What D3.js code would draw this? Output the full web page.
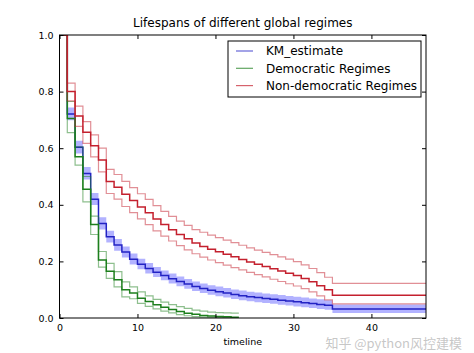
<!DOCTYPE html>
<html>
<head>
<meta charset="utf-8">
<script src="https://cdn.jsdelivr.net/npm/d3@7"></script>
<style>
  html, body { margin: 0; padding: 0; background: #fff; }
  svg { display: block; font-family: "DejaVu Sans", sans-serif; }
</style>
</head>
<body>
<div id="chart"></div>
<script>
// yearly steps, last value held to the end of the observation window
const timeline = [0,1,2,3,4,5,6,7,8,9,10,11,12,13,14,15,16,17,18,19,20,21,22,23,24,25,26,27,28,29,30,31,32,33,34,35];
const timelineEnd = 47;

const kmEstimate = [1.0,0.721,0.603,0.511,0.420,0.334,0.287,0.258,0.233,0.208,0.190,0.175,0.162,0.150,0.139,0.129,0.120,0.111,0.104,0.098,0.093,0.088,0.083,0.079,0.075,0.072,0.069,0.066,0.063,0.060,0.057,0.054,0.051,0.048,0.045,0.032];
const kmUpper    = [1.0,0.744,0.626,0.534,0.442,0.356,0.308,0.279,0.253,0.228,0.209,0.194,0.180,0.168,0.157,0.147,0.138,0.129,0.122,0.116,0.111,0.106,0.101,0.097,0.093,0.090,0.087,0.084,0.081,0.078,0.075,0.072,0.069,0.066,0.063,0.048];
const kmLower    = [1.0,0.699,0.581,0.489,0.399,0.313,0.267,0.238,0.214,0.189,0.172,0.157,0.145,0.133,0.122,0.112,0.103,0.095,0.088,0.082,0.077,0.072,0.067,0.063,0.059,0.056,0.053,0.050,0.047,0.044,0.041,0.038,0.035,0.032,0.029,0.018];

const nonDemEstimate = [1.0,0.800,0.714,0.656,0.609,0.558,0.482,0.462,0.437,0.415,0.392,0.372,0.350,0.330,0.312,0.295,0.280,0.265,0.253,0.243,0.234,0.225,0.216,0.207,0.198,0.190,0.182,0.174,0.166,0.158,0.150,0.140,0.128,0.114,0.100,0.080];
const nonDemUpper    = [1.0,0.830,0.749,0.694,0.647,0.600,0.525,0.507,0.483,0.461,0.439,0.419,0.397,0.377,0.359,0.342,0.327,0.312,0.303,0.293,0.284,0.275,0.266,0.257,0.248,0.240,0.232,0.224,0.216,0.208,0.199,0.188,0.175,0.160,0.144,0.122];
const nonDemLower    = [1.0,0.767,0.677,0.617,0.569,0.516,0.440,0.420,0.394,0.372,0.350,0.330,0.308,0.289,0.272,0.256,0.241,0.227,0.215,0.205,0.196,0.187,0.178,0.170,0.161,0.153,0.145,0.137,0.129,0.121,0.113,0.104,0.092,0.078,0.064,0.050];

const demTimeline = [0,1,2,3,4,5,6,7,8,9,10,11,12,13,14,15,16,17,18,19,20,21,22];
const demTimelineEnd = 23;
const demEstimate = [1.0,0.705,0.570,0.455,0.330,0.205,0.165,0.135,0.100,0.088,0.070,0.058,0.047,0.038,0.030,0.023,0.017,0.013,0.009,0.007,0.005,0.004,0.003];
const demUpper    = [1.0,0.765,0.605,0.500,0.360,0.235,0.193,0.164,0.128,0.110,0.092,0.078,0.066,0.056,0.047,0.040,0.034,0.028,0.024,0.021,0.019,0.018,0.017];
const demLower    = [1.0,0.655,0.540,0.410,0.295,0.180,0.140,0.110,0.075,0.068,0.052,0.041,0.032,0.024,0.018,0.012,0.008,0.005,0.003,0.002,0.001,0.001,0.001];

const xTicks = [0, 10, 20, 30, 40];
const yTicks = [0.0, 0.2, 0.4, 0.6, 0.8, 1.0];
const legendLabels = ['KM_estimate', 'Democratic Regimes', 'Non-democratic Regimes'];

const W = 474, H = 353;
const margin = { top: 35, right: 48, bottom: 35, left: 59.5 };
const width = W - margin.left - margin.right;
const height = H - margin.top - margin.bottom;

const BLUE = '#2323c4', GREEN = '#1d7f1d', RED = '#c4202e';

const svg = d3.select('#chart').append('svg')
  .attr('width', W).attr('height', H);

const g = svg.append('g')
  .attr('transform', `translate(${margin.left},${margin.top})`);

const x = d3.scaleLinear().domain([0, timelineEnd]).range([0, width]);
const y = d3.scaleLinear().domain([0, 1]).range([height, 0]);

// pair a step series with its times, holding the last value to the end
const steps = (ts, vals, end) => ts.map((t, i) => [t, vals[i]]).concat([[end, vals[vals.length - 1]]]);

const line = d3.line().x(d => x(d[0])).y(d => y(d[1])).curve(d3.curveStepAfter);

const plot = g.append('g');
plot.append('defs').append('clipPath').attr('id', 'clip')
  .append('rect').attr('width', width).attr('height', height);
const marks = plot.append('g').attr('clip-path', 'url(#clip)');

// KM estimate with shaded band
const band = timeline.map((t, i) => ({ t, lo: kmLower[i], hi: kmUpper[i] }))
  .concat([{ t: timelineEnd, lo: kmLower[kmLower.length - 1], hi: kmUpper[kmUpper.length - 1] }]);
marks.append('path')
  .datum(band)
  .attr('fill', '#0000ff').attr('fill-opacity', 0.3)
  .attr('d', d3.area().x(d => x(d.t)).y0(d => y(d.lo)).y1(d => y(d.hi)).curve(d3.curveStepAfter));
marks.append('path')
  .datum(steps(timeline, kmEstimate, timelineEnd))
  .attr('fill', 'none').attr('stroke', BLUE).attr('stroke-width', 1.5)
  .attr('d', line);

// Democratic: CI drawn as lighter lines
[demUpper, demLower].forEach(s => {
  marks.append('path')
    .datum(steps(demTimeline, s, demTimelineEnd))
    .attr('fill', 'none').attr('stroke', GREEN).attr('stroke-opacity', 0.5).attr('stroke-width', 1.2)
    .attr('d', line);
});
marks.append('path')
  .datum(steps(demTimeline, demEstimate, demTimelineEnd))
  .attr('fill', 'none').attr('stroke', GREEN).attr('stroke-width', 1.5)
  .attr('d', line);

// Non-democratic
[nonDemUpper, nonDemLower].forEach(s => {
  marks.append('path')
    .datum(steps(timeline, s, timelineEnd))
    .attr('fill', 'none').attr('stroke', RED).attr('stroke-opacity', 0.5).attr('stroke-width', 1.2)
    .attr('d', line);
});
marks.append('path')
  .datum(steps(timeline, nonDemEstimate, timelineEnd))
  .attr('fill', 'none').attr('stroke', RED).attr('stroke-width', 1.5)
  .attr('d', line);

// Axes, classic style: ticks inward on all sides
const tickLen = 4;
g.append('g').attr('transform', `translate(0,${height})`)
  .call(d3.axisBottom(x).tickValues(xTicks).tickFormat(d3.format('d')).tickSizeInner(-tickLen).tickSizeOuter(0).tickPadding(6))
  .call(a => a.select('.domain').remove());
g.append('g')
  .call(d3.axisTop(x).tickValues(xTicks).tickFormat('').tickSizeInner(-tickLen).tickSizeOuter(0))
  .call(a => a.select('.domain').remove());
g.append('g')
  .call(d3.axisLeft(y).tickValues(yTicks).tickFormat(d3.format('.1f')).tickSizeInner(-tickLen).tickSizeOuter(0).tickPadding(6))
  .call(a => a.select('.domain').remove());
g.append('g').attr('transform', `translate(${width},0)`)
  .call(d3.axisRight(y).tickValues(yTicks).tickFormat('').tickSizeInner(-tickLen).tickSizeOuter(0))
  .call(a => a.select('.domain').remove());

g.selectAll('.tick text')
  .attr('font-family', '"DejaVu Sans", sans-serif')
  .attr('font-size', 9.5).attr('fill', '#000');
g.selectAll('.tick line').attr('stroke', '#000');

g.append('rect')
  .attr('width', width).attr('height', height)
  .attr('fill', 'none').attr('stroke', '#000').attr('stroke-width', 1);

// Title and axis label
g.append('text')
  .attr('x', width / 2).attr('y', -8)
  .attr('text-anchor', 'middle')
  .attr('font-size', 12)
  .text('Lifespans of different global regimes');

g.append('text')
  .attr('x', width / 2).attr('y', height + 27)
  .attr('text-anchor', 'middle')
  .attr('font-size', 9.5)
  .text('timeline');

// Legend
const legend = g.append('g').attr('transform', `translate(${228 - margin.left},${41 - margin.top})`);
legend.append('rect')
  .attr('width', 193).attr('height', 56)
  .attr('fill', '#fff').attr('stroke', '#000').attr('stroke-width', 1);
const legendColors = [BLUE, GREEN, RED];
legendLabels.forEach((lab, i) => {
  const ly = 10 + i * 17.3;
  legend.append('line')
    .attr('x1', 8).attr('x2', 25).attr('y1', ly).attr('y2', ly)
    .attr('stroke', legendColors[i]).attr('stroke-opacity', 0.7).attr('stroke-width', 1.2);
  legend.append('text')
    .attr('x', 38).attr('y', ly).attr('dy', '0.35em')
    .attr('font-size', 12)
    .text(lab);
});

// Watermark
svg.append('text')
  .attr('x', 462).attr('y', 348)
  .attr('text-anchor', 'end')
  .attr('font-family', '"Noto Sans CJK SC", "Noto Sans", sans-serif')
  .attr('font-size', 13)
  .attr('fill', '#bdbdbd').attr('fill-opacity', 0.85)
  .text('知乎 @python风控建模');
</script>
</body>
</html>
